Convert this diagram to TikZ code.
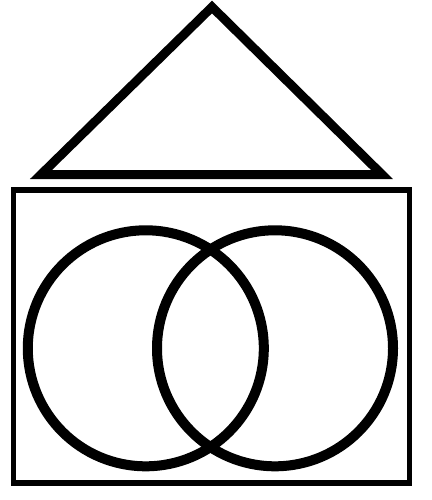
\documentclass[tikz,border=0pt]{standalone}
\begin{document}
\begin{tikzpicture}[x=1pt,y=-1pt,
  roof/.style={draw=black,line width=9pt,line join=miter,miter limit=20},
  frame/.style={draw=black,line width=5.5pt,line join=miter},
  ring/.style={draw=black,line width=10pt}]
\useasboundingbox (0,0) rectangle (431,500);
% roof triangle
\coordinate (apex) at (212,7);
\coordinate (bl) at (41,174.5);
\coordinate (br) at (382,174.5);
\draw[roof] (apex) -- (br) -- (bl) -- cycle;
% frame
\draw[frame] (13.3,190) rectangle (409.5,483);
% two overlapping circles
\draw[ring] (145.8,348.3) circle[radius=118pt];
\draw[ring] (275,348.3) circle[radius=118pt];
\end{tikzpicture}
\end{document}
